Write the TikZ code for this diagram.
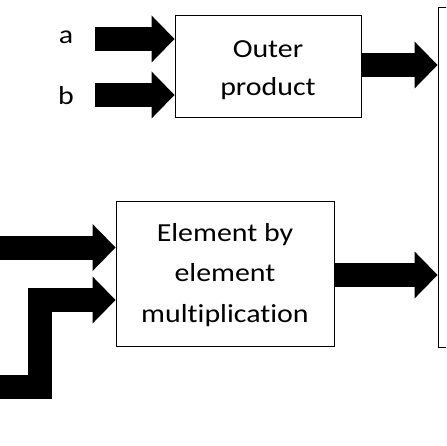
\documentclass[tikz,border=0pt]{standalone}
\usepackage{fontspec}
\setmainfont{Carlito}[FakeStretch=1.15,RawFeature={-liga;-clig;-dlig}]
\usetikzlibrary{arrows.meta}
\begin{document}
\begin{tikzpicture}[x=1pt,y=-1pt,
  box/.style={draw, line width=0.9pt, inner sep=0pt, align=center},
  boxtext/.style={font=\fontsize{26}{40.5}\selectfont},
  fat/.style={line width=24pt, -{Triangle[width=47pt,length=23pt,line width=0pt]}},
  lbl/.style={font=\fontsize{26}{30}\selectfont, inner sep=0pt, anchor=base}]
\useasboundingbox (0,0) rectangle (446,446);
\clip (0,0) rectangle (446,446);
% boxes
\node[box, font=\fontsize{26}{38.5}\selectfont, minimum width=186pt, minimum height=102pt] (outer) at (268,66) {\rule{0pt}{25pt}Outer\\product};
\node[box, boxtext, minimum width=218pt, minimum height=145pt] (elem) at (225,273.5) {\rule{0pt}{21pt}Element by\\element\\multiplication};
\node[box, minimum width=100pt, minimum height=340pt] (accum) at (488,177) {};
% labels
\node[lbl] (la) at (66,43.3) {a};
\node[lbl] (lb) at (66,105) {b};
% helper coordinates
\coordinate (ain) at (95,39);
\coordinate (bin) at (95,95);
\coordinate (o1) at (0,65);
\coordinate (e1in) at (0,247.5);
\coordinate (e2in) at (0,387);
\coordinate (bend) at (40,300);
\coordinate (o2) at (0,275);
% arrows
\draw[fat] (ain) -- (outer.west |- ain);
\draw[fat] (bin) -- (outer.west |- bin);
\draw[fat] (outer.east |- o1) -- (accum.west |- o1);
\draw[fat] (e1in) -- (elem.west |- e1in);
\draw[fat] (e2in) -| (bend) -- (elem.west |- bend);
\draw[fat] (elem.east |- o2) -- (accum.west |- o2);
\end{tikzpicture}
\end{document}
